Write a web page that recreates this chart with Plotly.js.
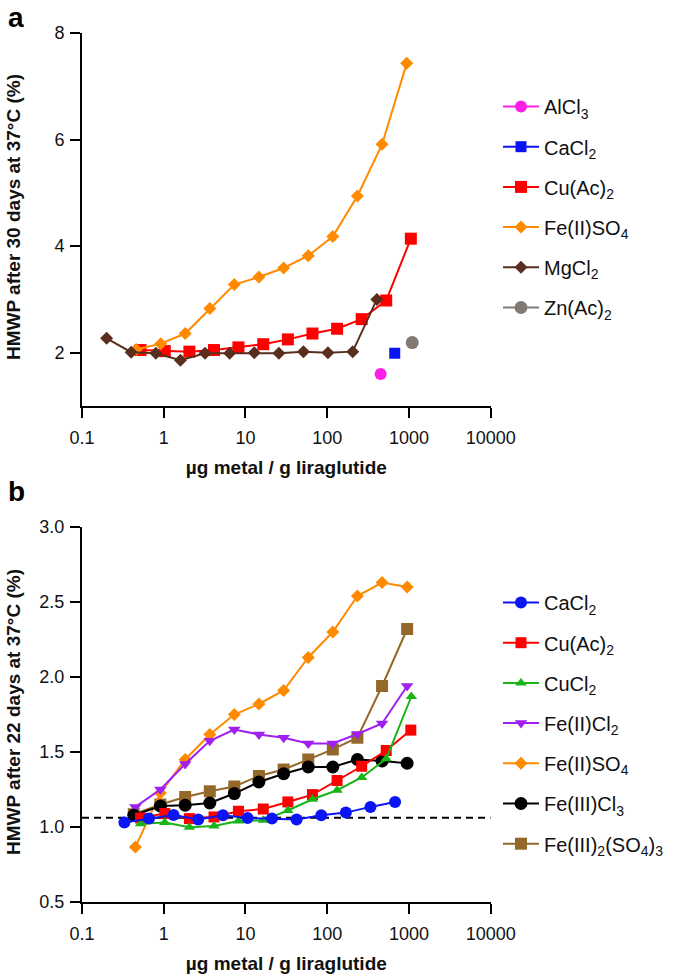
<!DOCTYPE html>
<html>
<head>
<meta charset="utf-8">
<script src="https://cdn.plot.ly/plotly-3.0.1.min.js"></script>
<style>html,body{margin:0;padding:0;background:#fff;}#chart{width:685px;height:977px;}</style>
</head>
<body>
<div id="chart"></div>
<script>
// ---------- Panel a (30 days) ----------
const aAlCl3_x = [450];
const aAlCl3_y = [1.60];
const aCaCl2_x = [670];
const aCaCl2_y = [1.99];
const aCuAc2_x = [0.52, 1.03, 2.06, 4.12, 8.2, 16.5, 33, 66, 132, 264, 527, 1054];
const aCuAc2_y = [2.05, 2.03, 2.02, 2.05, 2.10, 2.16, 2.25, 2.36, 2.45, 2.63, 2.98, 4.14];
const aFeSO4_x = [0.46, 0.92, 1.83, 3.66, 7.3, 14.6, 29.3, 58.6, 117, 234, 469, 938];
const aFeSO4_y = [2.06, 2.17, 2.36, 2.83, 3.28, 3.42, 3.59, 3.82, 4.18, 4.94, 5.91, 7.43];
const aMgCl2_x = [0.2, 0.4, 0.8, 1.6, 3.2, 6.4, 12.8, 25.6, 51.2, 102, 205, 405];
const aMgCl2_y = [2.27, 2.01, 1.99, 1.86, 1.99, 1.99, 2.0, 1.99, 2.02, 2.0, 2.02, 3.0];
const aZnAc2_x = [1096];
const aZnAc2_y = [2.19];

// ---------- Panel b (22 days) ----------
const bCaCl2_x = [0.33, 0.66, 1.32, 2.64, 5.3, 10.6, 21.1, 42.2, 84.5, 169, 338, 676];
const bCaCl2_y = [1.03, 1.056, 1.08, 1.05, 1.078, 1.06, 1.056, 1.05, 1.078, 1.096, 1.134, 1.167];
const bCuAc2_x = [0.52, 1.03, 2.06, 4.12, 8.2, 16.5, 33, 66, 132, 264, 527, 1054];
const bCuAc2_y = [1.06, 1.09, 1.056, 1.067, 1.105, 1.12, 1.167, 1.216, 1.31, 1.405, 1.51, 1.646];
const bCuCl2_x = [0.52, 1.03, 2.06, 4.12, 8.2, 16.5, 33, 66, 132, 264, 527, 1070];
const bCuCl2_y = [1.022, 1.03, 0.998, 1.007, 1.04, 1.045, 1.11, 1.185, 1.245, 1.33, 1.455, 1.87];
const bFeCl2_x = [0.45, 0.91, 1.83, 3.66, 7.3, 14.6, 29.3, 58.6, 117, 234, 469, 950];
const bFeCl2_y = [1.134, 1.25, 1.42, 1.575, 1.65, 1.617, 1.595, 1.557, 1.557, 1.62, 1.69, 1.94];
const bFeSO4_x = [0.45, 0.91, 1.83, 3.66, 7.3, 14.6, 29.3, 58.6, 117, 234, 469, 950];
const bFeSO4_y = [0.866, 1.227, 1.45, 1.617, 1.75, 1.82, 1.91, 2.13, 2.30, 2.54, 2.63, 2.60];
const bFeCl3_x = [0.43, 0.91, 1.83, 3.66, 7.3, 14.6, 29.3, 58.6, 117, 234, 469, 950];
const bFeCl3_y = [1.078, 1.14, 1.145, 1.16, 1.223, 1.30, 1.355, 1.40, 1.40, 1.45, 1.44, 1.425];
const bFe2SO43_x = [0.43, 0.91, 1.83, 3.66, 7.3, 14.6, 29.3, 58.6, 117, 234, 469, 950];
const bFe2SO43_y = [1.085, 1.15, 1.20, 1.238, 1.27, 1.34, 1.383, 1.45, 1.517, 1.595, 1.94, 2.32];
const bBaseline_x = [0.1, 10000];
const bBaseline_y = [1.062, 1.062];

// tick labels and titles
const xTickVals = [0.1, 1, 10, 100, 1000, 10000];
const xTickText = ["0.1", "1", "10", "100", "1000", "10000"];
const aYTickVals = [2, 4, 6, 8];
const bYTickVals = [0.5, 1.0, 1.5, 2.0, 2.5, 3.0];
const xTitle = "µg metal / g liraglutide";
const aYTitle = "HMWP after 30 days at 37°C (%)";
const bYTitle = "HMWP after 22 days at 37°C (%)";

const FONT = "Liberation Sans, Arial, Helvetica, sans-serif";

function tr(x, y, name, color, symbol, size, xa, ya, legend, mode) {
  return {
    x: x, y: y, name: name, type: "scatter", mode: mode || "lines+markers",
    xaxis: xa, yaxis: ya, legend: legend,
    line: {color: color, width: 2},
    marker: {color: color, symbol: symbol, size: size, line: {width: 0}},
    cliponaxis: false
  };
}

const data = [
  tr(aAlCl3_x, aAlCl3_y, "AlCl<sub>3</sub>", "#ff1ee6", "circle", 12, "x", "y", "legend"),
  tr(aCaCl2_x, aCaCl2_y, "CaCl<sub>2</sub>", "#0a14f5", "square", 11, "x", "y", "legend"),
  tr(aCuAc2_x, aCuAc2_y, "Cu(Ac)<sub>2</sub>", "#ff0000", "square", 12, "x", "y", "legend"),
  tr(aFeSO4_x, aFeSO4_y, "Fe(II)SO<sub>4</sub>", "#ff8a00", "diamond", 10, "x", "y", "legend"),
  tr(aMgCl2_x, aMgCl2_y, "MgCl<sub>2</sub>", "#5a2e1e", "diamond", 10, "x", "y", "legend"),
  tr(aZnAc2_x, aZnAc2_y, "Zn(Ac)<sub>2</sub>", "#827a72", "circle", 13, "x", "y", "legend"),

  tr(bBaseline_x, bBaseline_y, "baseline", "#000000", "circle", 1, "x2", "y2", "legend2", "lines"),

  tr(bFe2SO43_x, bFe2SO43_y, "Fe(III)<sub>2</sub>(SO<sub>4</sub>)<sub>3</sub>", "#94682a", "square", 12, "x2", "y2", "legend2"),
  tr(bFeSO4_x, bFeSO4_y, "Fe(II)SO<sub>4</sub>", "#ff8a00", "diamond", 10, "x2", "y2", "legend2"),
  tr(bFeCl2_x, bFeCl2_y, "Fe(II)Cl<sub>2</sub>", "#a020f0", "triangle-down", 11, "x2", "y2", "legend2"),
  tr(bFeCl3_x, bFeCl3_y, "Fe(III)Cl<sub>3</sub>", "#000000", "circle", 13, "x2", "y2", "legend2"),
  tr(bCuAc2_x, bCuAc2_y, "Cu(Ac)<sub>2</sub>", "#ff0000", "square", 11, "x2", "y2", "legend2"),
  tr(bCuCl2_x, bCuCl2_y, "CuCl<sub>2</sub>", "#18b418", "triangle-up", 10, "x2", "y2", "legend2"),
  tr(bCaCl2_x, bCaCl2_y, "CaCl<sub>2</sub>", "#0a14f5", "circle", 12, "x2", "y2", "legend2")
];
// baseline styling
data[6].line = {color: "#000000", width: 2, dash: "7px,5px"};
data[6].showlegend = false;
data[6].hoverinfo = "skip";
// legend order for panel b
const bOrder = ["CaCl<sub>2</sub>", "Cu(Ac)<sub>2</sub>", "CuCl<sub>2</sub>", "Fe(II)Cl<sub>2</sub>", "Fe(II)SO<sub>4</sub>", "Fe(III)Cl<sub>3</sub>", "Fe(III)<sub>2</sub>(SO<sub>4</sub>)<sub>3</sub>"];
data.forEach((t, i) => {
  if (t.legend === "legend2" && t.showlegend !== false) t.legendrank = bOrder.indexOf(t.name) + 1;
  if (t.legend === "legend") t.legendrank = i + 1;
  if (t.showlegend !== false) t.legendgroup = t.legend + t.name;
});

const W = 685, H = 977;
const xDom = [82 / W, 490.7 / W];
const aDom = [1 - 406 / H, 1 - 33 / H];
const bDom = [1 - 902 / H, 1 - 527 / H];

function xaxis(anchor) {
  return {
    type: "log", range: [-1, 4], domain: xDom, anchor: anchor,
    tickvals: xTickVals, ticktext: xTickText,
    showline: true, linecolor: "#000", linewidth: 2, mirror: false,
    ticks: "outside", ticklen: 10, tickwidth: 2, tickcolor: "#000",
    ticklabelstandoff: 4,
    showgrid: false, zeroline: false,
    tickfont: {family: FONT, size: 18, color: "#111"},
    title: {text: xTitle, font: {family: FONT, size: 19, color: "#111", weight: "bold"}}
  };
}
function yaxis(anchor, dom, range, vals, fmt) {
  return {
    range: range, domain: dom, anchor: anchor,
    tickvals: vals, tickformat: fmt,
    showline: true, linecolor: "#000", linewidth: 2,
    ticks: "outside", ticklen: 10, tickwidth: 2, tickcolor: "#000",
    ticklabelstandoff: 2,
    showgrid: false, zeroline: false,
    tickfont: {family: FONT, size: 18, color: "#111"}
  };
}

const legendCommon = {
  xanchor: "left", yanchor: "top", bgcolor: "rgba(0,0,0,0)",
  font: {family: FONT, size: 20, color: "#111"},
  tracegroupgap: 11.2, itemwidth: 36, traceorder: "grouped"
};

const yTitleFont = {family: FONT, size: 19, color: "#111", weight: "bold"};

const layout = {
  width: W, height: H,
  margin: {l: 0, r: 0, t: 0, b: 0},
  paper_bgcolor: "#fff", plot_bgcolor: "#fff",
  showlegend: true,
  xaxis: xaxis("y"),
  yaxis: yaxis("x", aDom, [1, 8], aYTickVals, "d"),
  xaxis2: xaxis("y2"),
  yaxis2: yaxis("x2", bDom, [0.5, 3.0], bYTickVals, ".1f"),
  legend: Object.assign({}, legendCommon, {x: 498 / W, y: 1 - 87 / H}),
  legend2: Object.assign({}, legendCommon, {x: 498 / W, y: 1 - 583 / H}),
  annotations: [
    {text: "<b>a</b>", x: 6 / W, y: 1, xref: "paper", yref: "paper", xanchor: "left", yanchor: "top", showarrow: false, font: {family: FONT, size: 28, color: "#000"}},
    {text: "<b>b</b>", x: 6 / W, y: 1 - 474 / H, xref: "paper", yref: "paper", xanchor: "left", yanchor: "top", showarrow: false, font: {family: FONT, size: 28, color: "#000"}},
    {text: aYTitle, textangle: -90, x: 13 / W, y: 1 - 217 / H, xref: "paper", yref: "paper", xanchor: "center", yanchor: "middle", showarrow: false, font: yTitleFont},
    {text: bYTitle, textangle: -90, x: 13 / W, y: 1 - 712 / H, xref: "paper", yref: "paper", xanchor: "center", yanchor: "middle", showarrow: false, font: yTitleFont}
  ]
};

Plotly.newPlot("chart", data, layout, {displayModeBar: false, staticPlot: true});
</script>
</body>
</html>
